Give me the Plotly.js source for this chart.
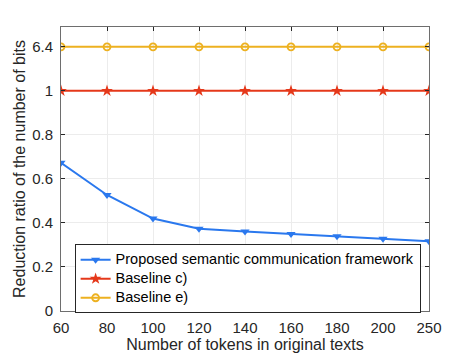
<!DOCTYPE html>
<html>
<head>
<meta charset="utf-8">
<script src="https://cdn.plot.ly/plotly-3.0.1.min.js"></script>
<style>html,body{margin:0;padding:0;background:#fff;}#chart{width:474px;height:355px;}</style>
</head>
<body>
<div id="chart"></div>
<script>
// Data
const tokenLabels = ["60", "80", "100", "120", "140", "160", "180", "200", "250"];
const seriesNames = ["Proposed semantic communication framework", "Baseline c)", "Baseline e)"];
const proposed = [0.673, 0.527, 0.42, 0.374, 0.361, 0.35, 0.339, 0.328, 0.317];
const baselineC = [1, 1, 1, 1, 1, 1, 1, 1, 1];
const baselineE = [6.4, 6.4, 6.4, 6.4, 6.4, 6.4, 6.4, 6.4, 6.4];
const yTickValues = [0, 0.2, 0.4, 0.6, 0.8, 1, 6.4];

// Broken y axis: linear from 0 to 1, and the value 6.4 sits one step above 1
const BREAK_SLOT = 1.2;
function yPos(v) { return v > 1 ? BREAK_SLOT : v; }

const xIdx = tokenLabels.map((_, i) => i);
const font = "Liberation Sans, Arial, Helvetica, sans-serif";
// legend rows are sized from legend.font.size; the visible text size is set per entry
function legendName(s) { return '<span style="font-size:14.5px">' + s + '</span>'; }

const traces = [
  {
    x: xIdx, y: proposed.map(yPos), name: legendName(seriesNames[0]),
    mode: "lines+markers", line: {color: "#2a78ee", width: 2},
    marker: {symbol: "triangle-down", size: 8, color: "#2a78ee"}
  },
  {
    x: xIdx, y: baselineC.map(yPos), name: legendName(seriesNames[1]),
    mode: "lines+markers", line: {color: "#e5381a", width: 2},
    marker: {symbol: "star", size: 9, color: "#e5381a"}
  },
  {
    x: xIdx, y: baselineE.map(yPos), name: legendName(seriesNames[2]),
    mode: "lines+markers", line: {color: "#edb120", width: 2},
    marker: {symbol: "circle-open", size: 7, color: "#edb120", line: {width: 1.8}}
  }
];

const layout = {
  width: 474, height: 355,
  margin: {l: 61, r: 45, t: 27, b: 44},
  paper_bgcolor: "#fff", plot_bgcolor: "#fff",
  font: {family: font, size: 15, color: "#262626"},
  showlegend: true,
  legend: {
    x: 0.037, y: -0.008, xanchor: "left", yanchor: "bottom",
    bgcolor: "#fff", bordercolor: "#262626", borderwidth: 1,
    font: {family: font, size: 10, color: "#000"},
    tracegroupgap: 0, itemwidth: 30
  },
  xaxis: {
    range: [0, tokenLabels.length - 1],
    tickvals: xIdx, ticktext: tokenLabels,
    ticks: "inside", ticklen: 4, tickcolor: "#262626",
    ticklabelstandoff: 3,
    showgrid: true, gridcolor: "#ececec", gridwidth: 1,
    showline: true, linecolor: "#6e6e6e", linewidth: 1, mirror: "ticks",
    zeroline: false,
    tickfont: {family: font, size: 15, color: "#262626"},
    title: {text: "Number of tokens in original texts", font: {family: font, size: 16, color: "#262626"}, standoff: 0}
  },
  yaxis: {
    range: [0, 1.29],
    tickvals: yTickValues.map(yPos), ticktext: yTickValues.map(String),
    ticks: "inside", ticklen: 4, tickcolor: "#262626",
    ticklabelstandoff: 4,
    showgrid: true, gridcolor: "#ececec", gridwidth: 1,
    showline: true, linecolor: "#6e6e6e", linewidth: 1, mirror: "ticks",
    zeroline: false,
    tickfont: {family: font, size: 15, color: "#262626"},
    title: {text: "Reduction ratio of the number of bits", font: {family: font, size: 16, color: "#262626"}, standoff: 2}
  }
};

Plotly.newPlot("chart", traces, layout, {displayModeBar: false, staticPlot: true});
</script>
</body>
</html>
